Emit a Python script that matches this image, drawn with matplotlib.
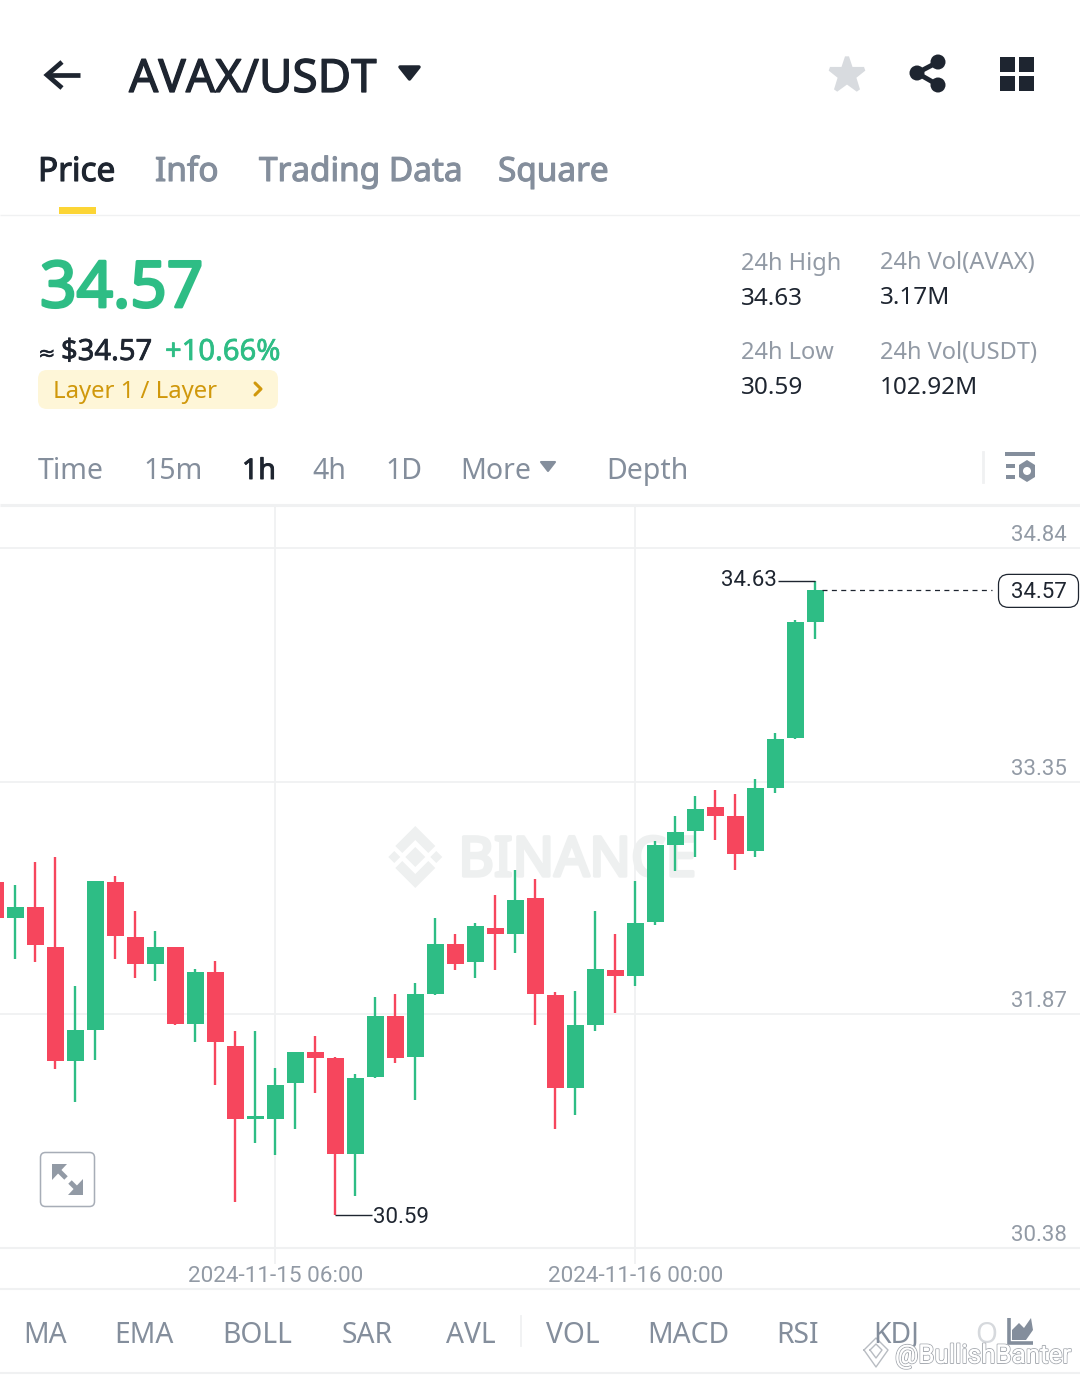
import matplotlib
matplotlib.use("Agg")
import matplotlib.pyplot as plt
import matplotlib.patheffects as pe
from matplotlib.patches import Circle, FancyBboxPatch, Polygon, Rectangle
import numpy as np

# hourly candles
opens = [32.71, 32.48, 32.55, 32.30, 31.57, 31.77, 32.71, 32.36, 32.19, 32.30, 31.81, 32.14,
         31.67, 31.20, 31.20, 31.43, 31.63, 31.59, 30.98, 31.47, 31.86, 31.60, 32.00, 32.32,
         32.20, 32.42, 32.38, 32.61, 31.99, 31.40, 31.80, 32.15, 32.11, 32.46, 32.95, 33.04,
         33.19, 33.13, 32.91, 33.31, 33.63, 34.37]
highs = [32.71, 32.69, 32.84, 32.87, 32.05, 32.72, 32.75, 32.53, 32.40, 32.30, 32.16, 32.21,
         31.76, 31.76, 31.53, 31.63, 31.73, 31.60, 31.49, 31.98, 32.00, 32.07, 32.48, 32.38,
         32.45, 32.63, 32.79, 32.73, 32.01, 32.02, 32.53, 32.38, 32.72, 32.97, 33.13, 33.26,
         33.30, 33.27, 33.37, 33.66, 34.38, 34.63]
lows = [32.48, 32.22, 32.20, 31.52, 31.31, 31.58, 32.22, 32.10, 32.08, 31.80, 31.69, 31.42,
        30.67, 31.05, 30.97, 31.14, 31.37, 30.59, 30.71, 31.46, 31.56, 31.32, 31.99, 32.15,
        32.10, 32.15, 32.26, 31.80, 31.14, 31.23, 31.76, 31.88, 32.05, 32.44, 32.78, 32.87,
        32.98, 32.79, 32.87, 33.28, 33.62, 34.26]
closes = [32.48, 32.55, 32.31, 31.57, 31.77, 32.72, 32.37, 32.19, 32.30, 31.81, 32.14, 31.69,
          31.20, 31.22, 31.42, 31.63, 31.59, 30.98, 31.46, 31.86, 31.59, 32.00, 32.32, 32.19,
          32.43, 32.38, 32.60, 32.00, 31.40, 31.80, 32.16, 32.11, 32.45, 32.95, 33.03, 33.18,
          33.13, 32.89, 33.31, 33.62, 34.37, 34.57]

price_ticks = [34.84, 33.35, 31.87, 30.38]
time_tick_candles = [14, 32]
time_tick_labels = ["2024-11-15 06:00", "2024-11-16 00:00"]

tabs = ["Price", "Info", "Trading Data", "Square"]
tabs_x = [38, 155, 259, 498]
intervals = ["Time", "15m", "1h", "4h", "1D", "More", "Depth"]
intervals_x = [38, 143.5, 242, 312, 385, 460, 606]
indicators = ["MA", "EMA", "BOLL", "SAR", "AVL", "VOL", "MACD", "RSI", "KDJ"]
indicators_x = [23, 114, 222, 342, 446, 546, 647, 776, 873]

GREEN = "#2EBD85"
RED = "#F6465D"
DARK = "#1E2530"
GREY = "#848E9C"
AXIS_GREY = "#929AA5"
LINE = "#F0F1F2"
UI_FONT = ["Noto Sans", "DejaVu Sans"]
CHART_FONT = "Roboto"

W, H = 1080, 1377
fig = plt.figure(figsize=(W / 100, H / 100), dpi=100, facecolor="white")

# chart axes, pixel rows 506-1264 with the same price scale as the app
px_per_price = (1248 - 548) / (price_ticks[0] - price_ticks[-1])
ax = fig.add_axes([0, (H - 1264) / H, 1, (1264 - 506) / H])
ax.set_xlim(0.235, 54.235)
ax.set_ylim(price_ticks[-1] - 16 / px_per_price, price_ticks[0] + 42 / px_per_price)
for s in ax.spines.values():
    s.set_visible(False)
ax.set_yticks(price_ticks)
ax.set_yticklabels([])
ax.set_xticks(time_tick_candles)
ax.set_xticklabels(time_tick_labels, fontsize=16.2, color=AXIS_GREY, family=CHART_FONT)
ax.tick_params(length=0, pad=1.2)
ax.grid(True, color=LINE, lw=1.3, zorder=0)
ax.set_axisbelow(True)

for p in price_ticks:
    ax.annotate(f"{p:.2f}", (1067 / W, p), xycoords=("axes fraction", "data"),
                xytext=(0, 1.5), textcoords="offset points", ha="right", va="bottom",
                fontsize=16, color=AXIS_GREY, family=CHART_FONT)

# watermark sits under the candles
x_unit = 1 / 20
y_unit = 1 / px_per_price
logo_cx = 21.0
logo_cy = price_ticks[0] - (857 - 548) * y_unit
logo_parts = [
    [(0, -31), (20, -11), (13, -4), (0, -17), (-13, -4), (-20, -11)],
    [(0, 31), (20, 11), (13, 4), (0, 17), (-13, 4), (-20, 11)],
    [(-27, 0), (-21, -6), (-15, 0), (-21, 6)],
    [(27, 0), (21, -6), (15, 0), (21, 6)],
    [(0, -10), (10, 0), (0, 10), (-10, 0)],
]
for part in logo_parts:
    pts = [(logo_cx + px * x_unit, logo_cy - py * y_unit) for px, py in part]
    ax.add_patch(Polygon(pts, closed=True, fc="#EEF0F0", ec="none", zorder=1))
ax.text(21.0 + 43 * x_unit, logo_cy - 19 * y_unit, "BINANCE", fontsize=39.5, color="#EEF0F0",
        family=UI_FONT, ha="left", va="baseline", zorder=1,
        path_effects=[pe.withStroke(linewidth=2.4, foreground="#EEF0F0")])

idx = np.arange(len(opens))
o, h_, l, c = map(np.array, (opens, highs, lows, closes))
colors = [GREEN if cl >= op else RED for op, cl in zip(o, c)]
ax.vlines(idx, l, h_, colors=colors, lw=1.7, capstyle="butt", zorder=3)
ax.bar(idx, np.abs(c - o), bottom=np.minimum(o, c), width=0.87, color=colors, zorder=3)

# high / low labels and last price marker
hi = int(np.argmax(h_))
lo = int(np.argmin(l))
ax.hlines(h_[hi], hi - 1.85, hi, color=DARK, lw=1.0, zorder=4)
ax.text(hi - 1.9, h_[hi], f"{h_[hi]:.2f}", ha="right", va="center", fontsize=16, color=DARK, family=CHART_FONT)
ax.hlines(l[lo], lo, lo + 1.85, color=DARK, lw=1.0, zorder=4)
ax.annotate(f"{l[lo]:.2f}", (lo + 1.9, l[lo]), xytext=(0, -1.5), textcoords="offset points", ha="left",
            va="center", fontsize=16, color=DARK, family=CHART_FONT)
ax.plot([idx[-1] + 0.35, idx[-1] + 8.85], [c[-1], c[-1]], color=DARK, lw=0.9, dashes=(4, 3.5), zorder=4)

# app chrome is drawn in pixel coordinates on top
ui = fig.add_axes([0, 0, 1, 1], facecolor="none")
ui.set_xlim(0, W)
ui.set_ylim(H, 0)
ui.axis("off")


def label(x, y, s, size, color=DARK, stroke=0, ha="left", family=UI_FONT, **kw):
    # the installed Noto Sans has one weight, so heavier text gets a thin outline
    if stroke:
        kw["path_effects"] = [pe.withStroke(linewidth=stroke, foreground=color)]
    return ui.text(x, y, s, fontsize=size, color=color, ha=ha, va="baseline", family=family, **kw)


def hline(y, lw=1.0, color=LINE):
    ui.plot([0, W], [y, y], color=color, lw=lw, solid_capstyle="butt")


# last price tag
tag_y = 548 + (price_ticks[0] - c[-1]) * px_per_price
ui.add_patch(FancyBboxPatch((998.5, tag_y - 16), 80, 33, boxstyle="round,pad=0,rounding_size=10",
                            fc="white", ec=DARK, lw=0.9))
label(1039, tag_y + 8, f"{c[-1]:.2f}", 16, ha="center", family=CHART_FONT)

# header
ui.plot([80, 47], [75, 75], color=DARK, lw=3.4, solid_capstyle="butt")
ui.plot([62, 47, 62], [62, 75, 88], color=DARK, lw=3.4, solid_joinstyle="miter", solid_capstyle="butt")
label(129, 92, "AVAX/USDT", 33, stroke=0.9)
ui.add_patch(Polygon([(400, 67), (419, 67), (409.5, 79)], closed=True, fc=DARK, ec=DARK, lw=2.5, joinstyle="round"))
ui.plot([847], [75], marker="*", ms=26, color="#D8DBDF", mec="#D8DBDF", mew=3, mfc="#D8DBDF")
share_pts = [(938, 62), (917, 73), (938, 85)]
ui.plot(*zip(*share_pts), color=DARK, lw=3.5)
for pt in share_pts:
    ui.add_patch(Circle(pt, 7.5, fc=DARK, ec="none"))
for gx in (1000, 1019):
    for gy in (57, 76):
        ui.add_patch(Rectangle((gx, gy), 15, 15, fc=DARK, ec="none"))

# tabs
for i, (t, tx) in enumerate(zip(tabs, tabs_x)):
    label(tx, 181, t, 24, color=DARK if i == 0 else GREY, stroke=0.8)
ui.add_patch(Rectangle((59, 207), 37, 7, fc="#FCD535", ec="none"))
hline(214.5)

# price block
label(40, 307, "34.57", 46, color=GREEN, stroke=2)
label(38, 360, "≈", 15, stroke=0.3)
label(61, 360, "$34.57", 21, stroke=0.5)
label(165, 360, "+10.66%", 21, color=GREEN, stroke=0.5)
ui.add_patch(FancyBboxPatch((38, 370), 240, 39, boxstyle="round,pad=0,rounding_size=9", fc="#FEF6D8", ec="none"))
label(53, 398, "Layer 1 / Layer", 17.2, color="#D0980B")
ui.plot([255, 261, 255], [383, 389, 395], color="#D0980B", lw=2.2, solid_capstyle="round")

for sx, sy, name, val in [(741, 270, "24h High", "34.63"), (880, 269, "24h Vol(AVAX)", "3.17M"),
                          (741, 359, "24h Low", "30.59"), (880, 359, "24h Vol(USDT)", "102.92M")]:
    label(sx, sy, name, 17, color=AXIS_GREY)
    label(sx, sy + 35, val, 17.5)

# interval row
for t, tx in zip(intervals, intervals_x):
    on = t == "1h"
    label(tx, 479, t, 20.5, color=DARK if on else GREY, stroke=0.7 if on else 0)
ui.add_patch(Polygon([(541, 462), (555, 462), (548, 471)], closed=True, fc=GREY, ec=GREY, lw=1.5, joinstyle="round"))
ui.plot([983, 983], [452, 482], color=LINE, lw=2)
ui.add_patch(Rectangle((1005, 452), 30, 4, fc=GREY, ec="none"))
ui.add_patch(Rectangle((1006, 464), 9, 4, fc=GREY, ec="none"))
ui.add_patch(Rectangle((1006, 475), 9, 4, fc=GREY, ec="none"))
ui.add_patch(Polygon([(1027, 460), (1035, 465), (1035, 477), (1027, 482), (1019, 477), (1019, 465)],
                     closed=True, fc=GREY, ec="none"))
ui.add_patch(Circle((1027, 471), 4, fc="white", ec="none"))
hline(505, lw=2.2)

# expand button
ui.add_patch(FancyBboxPatch((40.5, 1152.5), 54, 54, boxstyle="round,pad=0,rounding_size=5", fc="white", ec="#A7ADB7", lw=1.1))
ui.add_patch(Polygon([(52, 1164), (67, 1164), (52, 1180)], closed=True, fc=AXIS_GREY, ec="none"))
ui.add_patch(Polygon([(83, 1195), (83, 1179), (68, 1195)], closed=True, fc=AXIS_GREY, ec="none"))
ui.plot([58, 66], [1170, 1178], color=AXIS_GREY, lw=3.5, solid_capstyle="butt")
ui.plot([70, 78], [1182, 1190], color=AXIS_GREY, lw=3.5, solid_capstyle="butt")

# bottom indicator bar
hline(1248, lw=1.5)
hline(1288.5, lw=1.5)
hline(1372.5, lw=1.5)
for t, tx in zip(indicators, indicators_x):
    label(tx, 1343, t, 20.3, color=GREY)
label(975, 1343, "O", 20.3, color="#D6D9DD")
ui.plot([521, 521], [1316, 1346], color=LINE, lw=1.3)
ui.plot([1009, 1009, 1033], [1318, 1343, 1343], color=GREY, lw=2.6, solid_capstyle="butt", solid_joinstyle="miter")
ui.add_patch(Polygon([(1012, 1340), (1012, 1330), (1019, 1323), (1024, 1328), (1031, 1318), (1033, 1330), (1026, 1340)],
                     closed=True, fc=GREY, ec="none"))

# reposter mark
ui.plot([864, 876, 888, 876, 864], [1350, 1338, 1350, 1367, 1350], color="#B8BCC2", lw=1.0)
ui.plot([870, 876, 882, 876, 870], [1350, 1344, 1350, 1358, 1350], color="#B8BCC2", lw=1.0)
label(895, 1363, "@BullishBanter", 18.7, color="white", family=CHART_FONT,
      path_effects=[pe.withStroke(linewidth=1.4, foreground="#A9ADB3"), pe.Normal()])

fig.savefig("out.png", dpi=100)
